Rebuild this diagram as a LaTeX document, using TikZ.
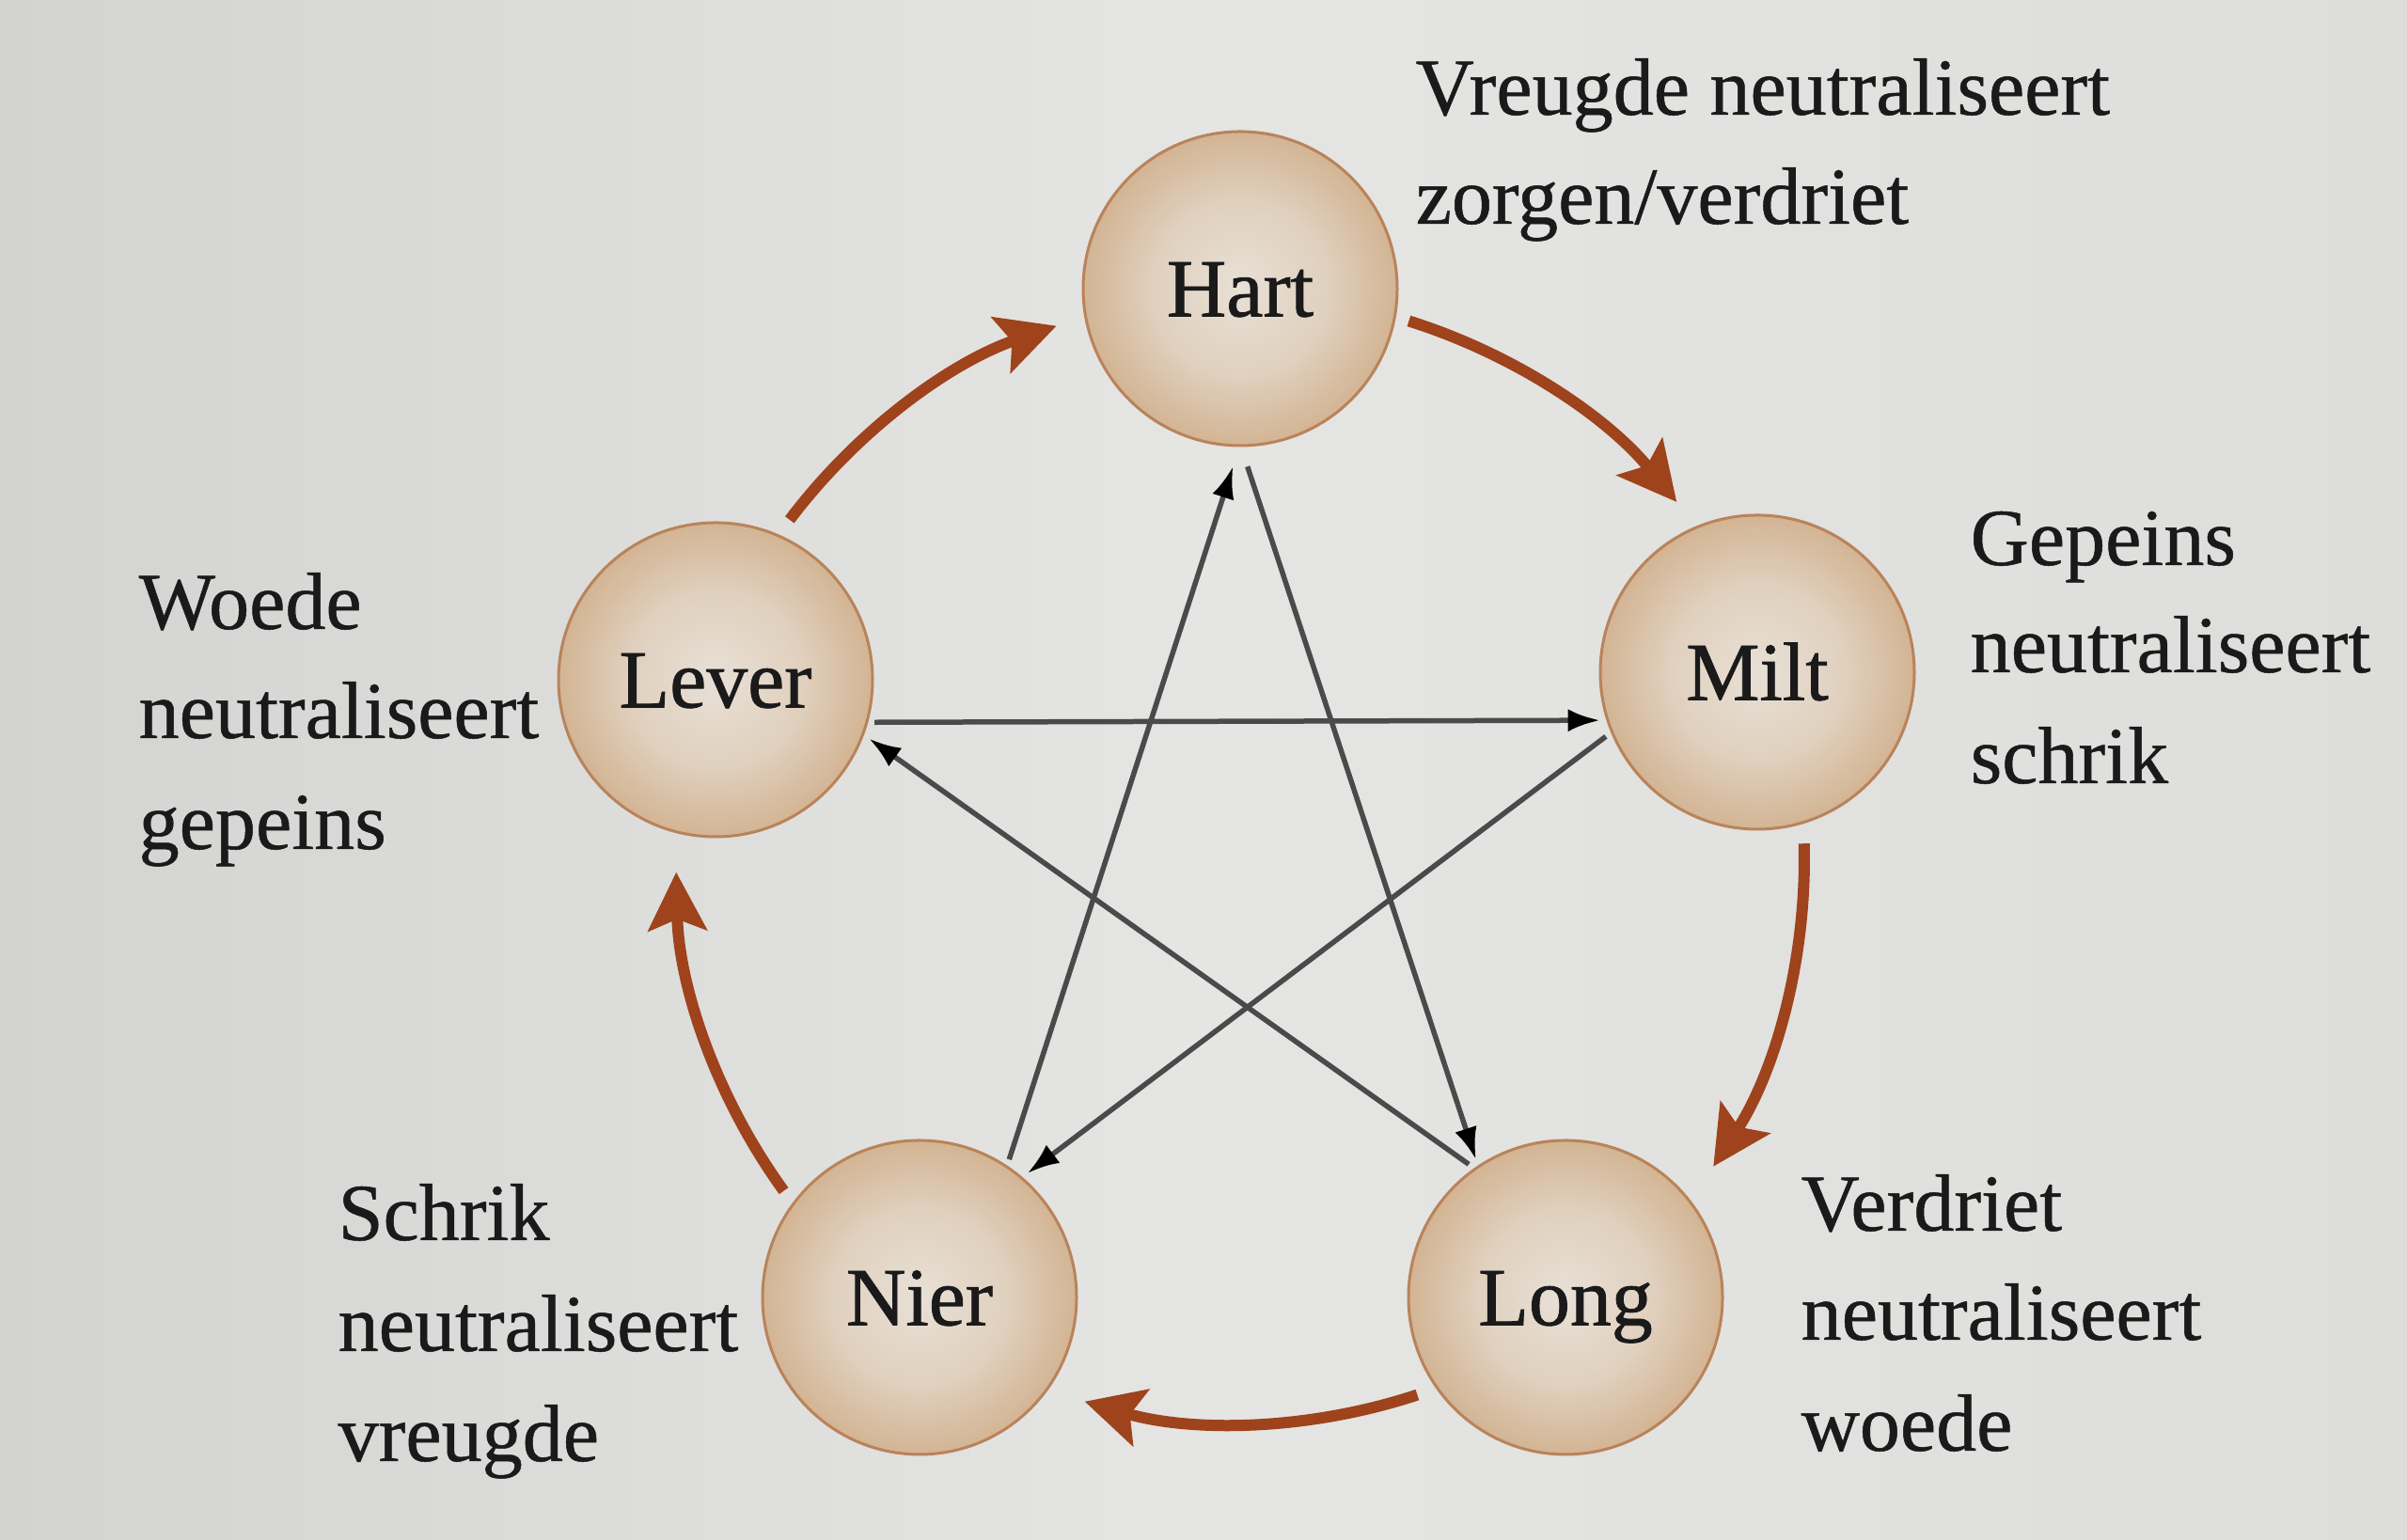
\documentclass[tikz,border=0pt]{standalone}
\usepackage{fontspec}
\setmainfont{Liberation Serif}
\usetikzlibrary{arrows.meta}
\definecolor{paperL}{HTML}{D3D4D2}
\definecolor{paperM}{HTML}{E5E5E3}
\definecolor{paperR}{HTML}{DDDDDB}
\definecolor{rust}{HTML}{9E431C}
\definecolor{starline}{HTML}{4A4A4A}
\definecolor{rim}{HTML}{B9835A}
\definecolor{inktext}{HTML}{1A1A1A}
\definecolor{ballA}{HTML}{E8E0D6}
\definecolor{ballB}{HTML}{E0D0BE}
\definecolor{ballC}{HTML}{CFAD88}
\definecolor{ballD}{HTML}{C0936A}
\definecolor{ballG}{HTML}{BF9066}
\definecolor{ballE}{HTML}{D5B99B}
\definecolor{ballF}{HTML}{CCA682}
\pgfdeclareradialshading{organball}{\pgfpoint{0bp}{0bp}}{%
 color(0bp)=(ballA); color(14bp)=(ballB); color(28bp)=(ballC); color(38bp)=(ballD); color(44bp)=(ballG); color(47.5bp)=(ballE); color(50bp)=(ballF)}
\tikzset{
  organ/.style={circle, minimum size=3.34cm, inner sep=0pt, outer sep=0.08cm,
    shading=organball, draw=rim, line width=0.03cm,
    font=\fontsize{25}{30}\selectfont\addfontfeatures{FakeBold=0.9}, text=inktext, text height=0.59cm, text depth=0pt},
  lbl/.style={anchor=base west, inner sep=0pt, font=\fontsize{24.5}{30}\selectfont\addfontfeatures{FakeBold=0.6}, text=inktext},
  cyc/.style={draw=rust, line width=0.12cm, -{Stealth[length=0.62cm, width=0.62cm, inset=0.12cm]}},
  ctrl/.style={draw=starline, line width=0.055cm, -{Latex[length=0.34cm, width=0.24cm, color=black]}}
}
\begin{document}
\begin{tikzpicture}
\useasboundingbox (0,0) rectangle (25.6,16.38);
\shade[left color=paperL, right color=paperR, middle color=paperM] (0,0) rectangle (25.6,16.38);

% organs
\node[organ] (hart)  at (13.19,13.31) {Hart};
\node[organ] (milt)  at (18.69,9.23)  {Milt};
\node[organ] (lever) at (7.61,9.15)   {Lever};
\node[organ] (nier)  at (9.78,2.58)   {Nier};
\node[organ] (long)  at (16.65,2.58)  {Long};

% generating cycle (outer arcs)
\coordinate (ring) at (13.19,7.24);
\draw[cyc] ([shift={(143:6)}]ring) arc[start angle=143, end angle=109, radius=6];
\draw[cyc] ([shift={(72.6:6)}]ring) arc[start angle=72.6, end angle=39.3, radius=6];
\draw[cyc] ([shift={(1.6:6)}]ring) arc[start angle=1.6, end angle=-33, radius=6];
\draw[cyc] ([shift={(-71.7:6)}]ring) arc[start angle=-71.7, end angle=-106, radius=6];
\draw[cyc] ([shift={(-144:6)}]ring) arc[start angle=-144, end angle=-178.7, radius=6];

% controlling cycle (star)
\draw[ctrl, shorten >=0.15cm] (nier.57) -- (hart.-91.5);
\draw[ctrl, shorten <=0.15cm] (hart.-89) -- (long.123);
\draw[ctrl] (lever.-15) -- (milt.197);
\draw[ctrl] (milt.203) -- (nier.49);
\draw[ctrl] (long.126) -- (lever.-21);

% labels
\node[lbl] (ha) at (15.05,15.16) {Vreugde neutraliseert};
\node[lbl] (hb) at (15.05,14.00) {zorgen/verdriet};
\node[lbl] (ma) at (20.95,10.37) {Gepeins};
\node[lbl] (mb) at (20.95,9.23)  {neutraliseert};
\node[lbl] (mc) at (20.95,8.05)  {schrik};
\node[lbl] (la) at (1.47,9.69) {Woede};
\node[lbl] (lb) at (1.47,8.53) {neutraliseert};
\node[lbl] (lc) at (1.47,7.35) {gepeins};
\node[lbl] (na) at (3.59,3.19) {Schrik};
\node[lbl] (nb) at (3.59,2.01) {neutraliseert};
\node[lbl] (nc) at (3.59,0.84) {vreugde};
\node[lbl] (oa) at (19.15,3.29) {Verdriet};
\node[lbl] (ob) at (19.15,2.13) {neutraliseert};
\node[lbl] (oc) at (19.15,0.95) {woede};
\end{tikzpicture}
\end{document}
